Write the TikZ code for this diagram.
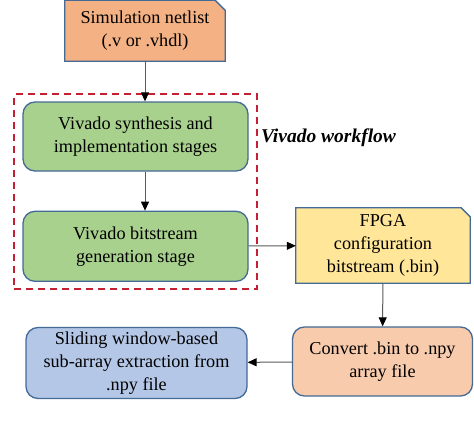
\documentclass[tikz,border=0pt]{standalone}
\usepackage{fontspec}
\setmainfont{Liberation Serif}
\usetikzlibrary{positioning,arrows.meta,fit,backgrounds}

\definecolor{boxblue}{RGB}{68,106,150}
\definecolor{dashred}{RGB}{196,32,52}
\definecolor{simorange}{RGB}{244,177,131}
\definecolor{convorange}{RGB}{248,203,173}
\definecolor{stagegreen}{RGB}{169,209,142}
\definecolor{binyellow}{RGB}{255,230,153}
\definecolor{slideblue}{RGB}{180,199,231}

\begin{document}
\begin{tikzpicture}[x=1pt, y=-1pt, node distance={39pt},
    box/.style = {align=center, inner sep=0pt, font=\fontsize{18.2}{23}\selectfont},
    roundnode/.style = {box, draw=boxblue, line width=1.3pt, rounded corners=12pt},
    snipline/.style = {draw=boxblue, line width=1.3pt},
    link/.style = {-{Triangle[length=9pt, width=8pt, black]}, line width=1pt, gray!70!black}]
    \useasboundingbox (0,0) rectangle (474,428);
        \node[box, minimum width=160pt, minimum height=60.5pt] (1) at (145,30.75) {Simulation netlist\\(.v or .vhdl)};
        \node[roundnode, fill=stagegreen, minimum width=225pt, minimum height=69pt] (2) at (135.5,136.5) {Vivado synthesis and\\implementation stages};
        \node[roundnode, fill=stagegreen, minimum width=225pt, minimum height=70pt] (3) [below=39pt of 2] {Vivado bitstream\\generation stage};
        \node[box, minimum width=174pt, minimum height=75pt] (4) at (383,245.5) {FPGA\\configuration\\bitstream (.bin)};
        \node[roundnode, fill=convorange, minimum width=180pt, minimum height=69pt] (5) at (382.5,361.5) {Convert .bin to .npy\\array file};
        \node[roundnode, fill=slideblue, minimum width=221pt, minimum height=71pt] (6) at (136.5,363) {Sliding window-based\\sub-array extraction from\\.npy file};
        \node[font=\bfseries\itshape\fontsize{19.5}{23}\selectfont] (flow) at (328.5,138) {Vivado workflow};
        \node[draw=dashred, line width=2pt, dash pattern=on 7pt off 5pt, fit=(2)(3), inner xsep=8pt, inner ysep=7.5pt] (frame) {};
        % snipped boxes
        \begin{scope}[on background layer]
            \draw[snipline, fill=simorange] (1.south west) -- (1.north west) -- ([xshift=-10pt]1.north east) -- ([yshift=-10pt]1.north east) -- (1.south east) -- cycle;
            \draw[snipline, fill=binyellow] (4.south west) -- (4.north west) -- ([xshift=-9pt]4.north east) -- ([yshift=-9pt]4.north east) -- (4.south east) -- cycle;
        \end{scope}
        \draw[link] (1.south) -- (1.south |- 2.north);
        \draw[link] (1.south |- 2.south) -- (1.south |- 3.north);
        \draw[link] (3) -- (4);
        \draw[link] (4) -- (5);
        \draw[link] (5) -- (6);
    \end{tikzpicture}
\end{document}
